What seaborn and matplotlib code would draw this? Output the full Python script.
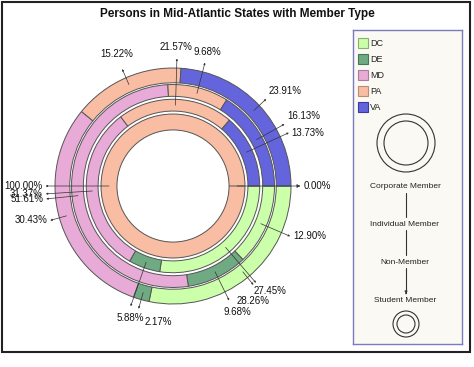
import numpy as np
import pandas as pd
from matplotlib import pyplot as plt
from matplotlib.patches import Rectangle, Circle
import seaborn as sns

# values: persons per state for each member type

states = ['DC', 'DE', 'MD', 'PA', 'VA']
member_types = ['Corporate Member', 'Individual Member', 'Non-Member', 'Student Member']
corporate = [13, 1, 14, 7, 11]
individual = [4, 3, 16, 3, 5]
non_member = [14, 3, 16, 11, 7]
student = [0, 0, 0, 2, 0]

state_colors = ['#CCFFAA', '#6FAA82', '#E8AAD6', '#F8BDA2', '#6464DC']
edge_colors = ['#86B070', '#3F7A55', '#A97C9B', '#BB8C74', '#3C3CA0']

sns.set_style('white')
plt.rcParams['font.family'] = ['Liberation Sans', 'DejaVu Sans']

counts = pd.DataFrame([corporate, individual, non_member, student], index=member_types, columns=states)
pct = counts.div(counts.sum(axis=1), axis=0) * 100

# figure geometry in pixels
W, H = 474, 367
cx_px, cy_px, R_px = 173, 186, 118
lim = 1.3

fig = plt.figure(figsize=(W / 100, H / 100), dpi=100)
half = lim * R_px
ax = fig.add_axes([(cx_px - half) / W, (H - cy_px - half) / H, 2 * half / W, 2 * half / H])
ax.set_xlim(-lim, lim)
ax.set_ylim(-lim, lim)
ax.axis('off')

ring_outer = [1.0, 0.86, 0.735, 0.61]
ring_width = [0.125, 0.10, 0.10, 0.135]

for member, r, w in zip(member_types, ring_outer, ring_width):
    ax.pie(counts.loc[member], radius=r, startangle=0, counterclock=False, colors=state_colors,
           wedgeprops=dict(width=w, edgecolor='#555555', linewidth=0.7))

ax.set_xlim(-lim, lim)
ax.set_ylim(-lim, lim)

# small text nudges (points) to separate crowded labels
nudges = {('Corporate Member', 'DC'): (-14, -6),
          ('Corporate Member', 'DE'): (14, -4),
          ('Corporate Member', 'PA'): (10, 5),
          ('Non-Member', 'PA'): (-1, 3),
          ('Individual Member', 'PA'): (2, 2),
          ('Non-Member', 'DC'): (-4, 0),
          ('Non-Member', 'DE'): (12, -3),
          ('Individual Member', 'DE'): (-6, -3)}


def put_label(theta, r_mid, text, k=1.08, nudge=(0, 0), head=2.5):
    a = np.deg2rad(-theta)
    ux, uy = np.cos(a), np.sin(a)
    ax.annotate('', xy=(k * ux, k * uy), xytext=(r_mid * ux, r_mid * uy), annotation_clip=False,
                arrowprops=dict(arrowstyle='-|>', color='#333333', lw=0.5, mutation_scale=head,
                                shrinkA=0, shrinkB=0))
    ha = 'left' if ux > 0.3 else ('right' if ux < -0.3 else 'center')
    va = 'bottom' if uy > 0.45 else ('top' if uy < -0.45 else 'center')
    ox = (2 * np.sign(ux) if ha != 'center' else 0) + nudge[0]
    oy = (2 * np.sign(uy) if va != 'center' else 0) + nudge[1]
    ax.annotate(text, xy=(k * ux, k * uy), xytext=(ox, oy), textcoords='offset points',
                ha=ha, va=va, fontsize=7, color='#111111', annotation_clip=False)


for member, r, w in zip(member_types, ring_outer, ring_width):
    p = pct.loc[member]
    start = p.cumsum() - p
    zero_done = False
    for state in states:
        if p[state] == 0:
            if zero_done:
                continue
            zero_done = True
        theta = (start[state] + p[state] / 2) * 3.6
        put_label(theta, r - w / 2, f'{p[state]:.2f}%', nudge=nudges.get((member, state), (0, 0)),
                  head=5 if p[state] == 0 else 2.5)

fig.text(0.5, 1 - 14 / H, 'Persons in Mid-Atlantic States with Member Type', ha='center', va='center',
         fontsize=8.5, fontweight='bold', color='#111111')

# legend panel
lx0, ly0, lw, lh = 353, 30, 109, 314
leg = fig.add_axes([lx0 / W, 1 - (ly0 + lh) / H, lw / W, lh / H])
leg.set_xlim(0, lw)
leg.set_ylim(lh, 0)
leg.set_facecolor('#FBF9F4')
leg.set_xticks([])
leg.set_yticks([])
for s in leg.spines.values():
    s.set_edgecolor('#7B7BBE')
    s.set_linewidth(1)

for i, (state, c, ec) in enumerate(zip(states, state_colors, edge_colors)):
    leg.add_patch(Rectangle((5, 8 + 16 * i), 10, 10, facecolor=c, edgecolor=ec, lw=0.8))
    leg.text(17, 13 + 16 * i, state, va='center', ha='left', fontsize=6.5, color='#222222')

mx = 53
leg.add_patch(Circle((mx, 113), 29, fill=False, edgecolor='#333333', lw=0.8))
leg.add_patch(Circle((mx, 113), 22, fill=False, edgecolor='#333333', lw=0.8))
text_y = [157, 194, 232, 270]
for t, y in zip(member_types, text_y):
    leg.text(52, y, t, ha='center', va='center', fontsize=6, color='#222222')
for y0, y1 in zip(text_y[:-1], text_y[1:]):
    leg.plot([mx, mx], [y0 + 6, y1 - 7], color='#333333', lw=0.8)
leg.annotate('', xy=(mx, text_y[-1] - 6), xytext=(mx, text_y[-1] - 9),
             arrowprops=dict(arrowstyle='-|>', color='#333333', lw=0.6, mutation_scale=4))
leg.add_patch(Circle((mx, 294), 13, fill=False, edgecolor='#333333', lw=0.8))
leg.add_patch(Circle((mx, 294), 9, fill=False, edgecolor='#333333', lw=0.8))

# outer frame
fig.patches.append(Rectangle((2 / W, 1 - 352 / H), 468 / W, 350 / H, transform=fig.transFigure,
                             fill=False, edgecolor='#222222', lw=1.5))

fig.savefig('out.png', dpi=100)
